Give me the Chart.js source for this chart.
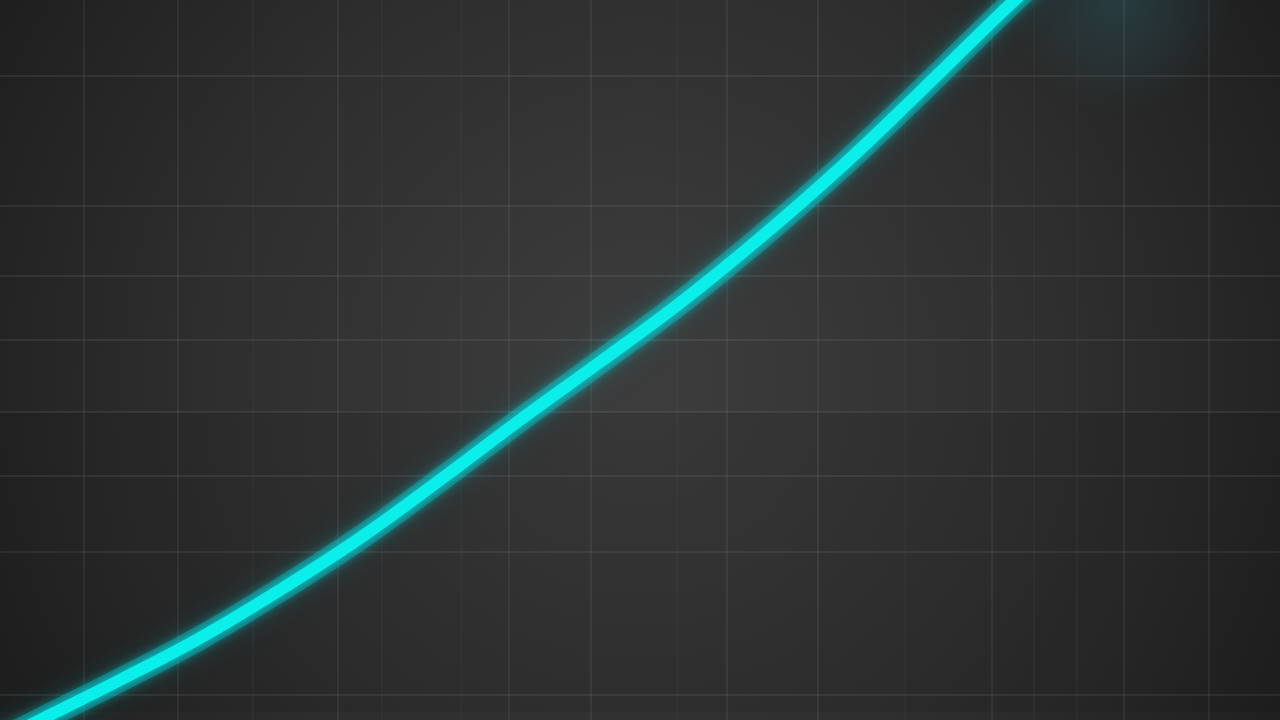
<!DOCTYPE html>
<html>
<head>
<meta charset="utf-8">
<script src="https://cdn.jsdelivr.net/npm/chart.js@4/dist/chart.umd.min.js"></script>
<style>
  html, body { margin: 0; padding: 0; background: #2a2a2a; }
  #wrap { width: 1280px; height: 720px; position: relative; }
</style>
</head>
<body>
<div id="wrap"><canvas id="glowChart"></canvas></div>
<script>
  // curve samples (x in px-units, y measured up from the bottom edge)
  const curveX = [0, 40, 120, 200, 280, 360, 440, 520, 600, 680, 760, 840, 920, 1000, 1060];
  const curveY = [-20, 0, 40, 82, 130, 182, 240, 300, 358, 417, 482, 552, 628, 706, 762];

  // grid lines
  const xGridMajor = [84, 178, 338, 509, 591, 727, 818, 992, 1124, 1209];
  const xGridMinor = [253, 382, 461, 677, 905, 1034, 1077];
  const yGridMajor = [644, 514, 444, 380, 308, 244, 168, 25];

  const points = curveX.map((x, i) => ({ x: x, y: curveY[i] }));

  const backdrop = {
    id: 'backdrop',
    beforeDraw(chart) {
      const ctx = chart.ctx;
      const w = chart.width, h = chart.height;
      ctx.save();
      ctx.fillStyle = '#232323';
      ctx.fillRect(0, 0, w, h);
      const g = ctx.createRadialGradient(640, 380, 40, 640, 380, 760);
      g.addColorStop(0, 'rgba(60,60,60,1)');
      g.addColorStop(0.55, 'rgba(46,46,46,1)');
      g.addColorStop(1, 'rgba(30,30,30,1)');
      ctx.fillStyle = g;
      ctx.fillRect(0, 0, w, h);
      // darker band below the middle
      ctx.fillStyle = 'rgba(0,0,0,0.07)';
      ctx.fillRect(0, 412, w, 300);
      // faint haze at the top right
      const hz = ctx.createRadialGradient(1120, 0, 5, 1120, 0, 110);
      hz.addColorStop(0, 'rgba(40,100,110,0.35)');
      hz.addColorStop(1, 'rgba(40,100,110,0)');
      ctx.fillStyle = hz;
      ctx.fillRect(980, 0, 300, 130);
      ctx.restore();
    }
  };

  const glow = {
    id: 'glow',
    beforeDatasetDraw(chart, args) {
      const ctx = chart.ctx;
      ctx.save();
      ctx.shadowColor = args.index === 1 ? 'rgba(0,255,255,1)' : 'rgba(0,190,200,0.6)';
      ctx.shadowBlur = args.index === 1 ? 14 : 30;
    },
    afterDatasetDraw(chart) {
      chart.ctx.restore();
    }
  };

  const ctx = document.getElementById('glowChart').getContext('2d');
  new Chart(ctx, {
    type: 'line',
    data: {
      datasets: [{
        data: points,
        borderColor: 'rgba(0,220,225,0.3)',
        borderWidth: 24,
        pointRadius: 0,
        tension: 0.4,
        fill: false
      }, {
        data: points,
        borderColor: '#14fff4',
        borderWidth: 12,
        pointRadius: 0,
        tension: 0.4,
        fill: false
      }]
    },
    options: {
      responsive: true,
      maintainAspectRatio: false,
      animation: false,
      layout: { padding: 0 },
      plugins: {
        legend: { display: false },
        tooltip: { enabled: false }
      },
      scales: {
        x: {
          type: 'linear', min: 0, max: 1280,
          border: { display: false },
          ticks: { display: false },
          afterBuildTicks: (s) => { s.ticks = xGridMajor.concat(xGridMinor).map(v => ({ value: v })); },
          grid: {
            drawTicks: false,
            lineWidth: 2,
            color: (c) => xGridMinor.includes(c.tick && c.tick.value) ? 'rgba(255,255,255,0.025)' : 'rgba(255,255,255,0.055)'
          }
        },
        y: {
          type: 'linear', min: 0, max: 720,
          border: { display: false },
          ticks: { display: false },
          afterBuildTicks: (s) => { s.ticks = yGridMajor.map(v => ({ value: v })); },
          grid: {
            drawTicks: false,
            lineWidth: 2,
            color: 'rgba(255,255,255,0.065)'
          }
        }
      }
    },
    plugins: [backdrop, glow]
  });
</script>
</body>
</html>
